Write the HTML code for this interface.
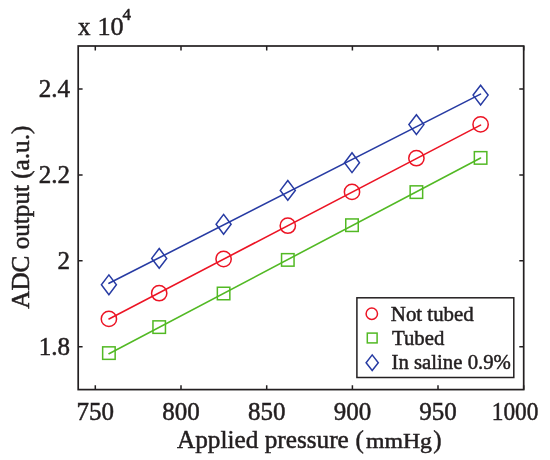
<!DOCTYPE html>
<html><head><meta charset="utf-8"><title>ADC output vs applied pressure</title>
<style>html,body{margin:0;padding:0;background:#fff}svg{display:block}text{font-family:"Liberation Serif","Times New Roman",serif;fill:#231f20;stroke:#231f20;stroke-width:0.5px}</style></head><body>
<svg width="550" height="460" viewBox="0 0 550 460">
<rect width="550" height="460" fill="#fff"/>
<rect x="78.2" y="46.0" width="445.5" height="343.6" fill="none" stroke="#231f20" stroke-width="1.7"/>
<path d="M95.3 389.65v-4.4M95.3 46.0v4.4M181.0 389.65v-4.4M181.0 46.0v4.4M266.7 389.65v-4.4M266.7 46.0v4.4M352.4 389.65v-4.4M352.4 46.0v4.4M438.0 389.65v-4.4M438.0 46.0v4.4M523.7 389.65v-4.4M523.7 46.0v4.4M78.2 346.7h4.4M523.7 346.7h-4.4M78.2 260.8h4.4M523.7 260.8h-4.4M78.2 174.9h4.4M523.7 174.9h-4.4M78.2 89.0h4.4M523.7 89.0h-4.4" stroke="#231f20" stroke-width="1.5" fill="none"/>
<g font-size="25" text-anchor="middle">
<text x="95.3" y="420">750</text>
<text x="181.0" y="420">800</text>
<text x="266.7" y="420">850</text>
<text x="352.4" y="420">900</text>
<text x="438.0" y="420">950</text>
<text x="491.8" y="420" text-anchor="start" textLength="46.6" lengthAdjust="spacingAndGlyphs">1000</text>
</g>
<g font-size="25" text-anchor="end">
<text x="70" y="355.1">1.8</text>
<text x="70" y="269.2">2</text>
<text x="70" y="183.3">2.2</text>
<text x="70" y="97.4">2.4</text>
</g>
<text x="78" y="34.9" font-size="25" style="white-space:pre">x <tspan x="97.5" font-size="26.2">10</tspan></text>
<text x="122.6" y="19.8" font-size="17">4</text>
<text x="177" y="448" font-size="25" style="white-space:pre"><tspan textLength="171.8" lengthAdjust="spacingAndGlyphs">Applied pressure</tspan><tspan x="349.15"> (</tspan><tspan x="366" font-size="22" textLength="66" lengthAdjust="spacingAndGlyphs">mmHg</tspan><tspan x="433.2">)</tspan></text>
<text transform="translate(29 308.7) rotate(-90)" font-size="25" textLength="183" lengthAdjust="spacingAndGlyphs">ADC output (a.u.)</text>
<line x1="109" y1="353.7" x2="480.6" y2="158.0" stroke="#52b924" stroke-width="1.6" stroke-linecap="round"/>
<line x1="109" y1="319.0" x2="480.5" y2="125.1" stroke="#ec1424" stroke-width="1.6" stroke-linecap="round"/>
<line x1="109" y1="283.3" x2="480.5" y2="94.1" stroke="#273ba3" stroke-width="1.6" stroke-linecap="round"/>
<rect x="102.65" y="346.85" width="12.5" height="12.5" fill="none" stroke="#52b924" stroke-width="1.5"/>
<rect x="152.95" y="320.85" width="12.5" height="12.5" fill="none" stroke="#52b924" stroke-width="1.5"/>
<rect x="217.35" y="287.25" width="12.5" height="12.5" fill="none" stroke="#52b924" stroke-width="1.5"/>
<rect x="281.55" y="253.65" width="12.5" height="12.5" fill="none" stroke="#52b924" stroke-width="1.5"/>
<rect x="345.75" y="218.95" width="12.5" height="12.5" fill="none" stroke="#52b924" stroke-width="1.5"/>
<rect x="410.15" y="185.85" width="12.5" height="12.5" fill="none" stroke="#52b924" stroke-width="1.5"/>
<rect x="474.35" y="151.65" width="12.5" height="12.5" fill="none" stroke="#52b924" stroke-width="1.5"/>
<circle cx="108.9" cy="318.9" r="7.65" fill="none" stroke="#ec1424" stroke-width="1.5"/>
<circle cx="159.2" cy="293.2" r="7.65" fill="none" stroke="#ec1424" stroke-width="1.5"/>
<circle cx="223.6" cy="259.0" r="7.65" fill="none" stroke="#ec1424" stroke-width="1.5"/>
<circle cx="287.8" cy="225.7" r="7.65" fill="none" stroke="#ec1424" stroke-width="1.5"/>
<circle cx="352.0" cy="191.9" r="7.65" fill="none" stroke="#ec1424" stroke-width="1.5"/>
<circle cx="416.4" cy="158.2" r="7.65" fill="none" stroke="#ec1424" stroke-width="1.5"/>
<circle cx="480.6" cy="124.4" r="7.65" fill="none" stroke="#ec1424" stroke-width="1.5"/>
<path d="M108.9 274.9l7.5 9.9l-7.5 9.9l-7.5 -9.9z" fill="none" stroke="#273ba3" stroke-width="1.5"/>
<path d="M159.2 248.5l7.5 9.9l-7.5 9.9l-7.5 -9.9z" fill="none" stroke="#273ba3" stroke-width="1.5"/>
<path d="M223.6 214.4l7.5 9.9l-7.5 9.9l-7.5 -9.9z" fill="none" stroke="#273ba3" stroke-width="1.5"/>
<path d="M287.8 180.5l7.5 9.9l-7.5 9.9l-7.5 -9.9z" fill="none" stroke="#273ba3" stroke-width="1.5"/>
<path d="M352.0 152.8l7.5 9.9l-7.5 9.9l-7.5 -9.9z" fill="none" stroke="#273ba3" stroke-width="1.5"/>
<path d="M416.4 114.7l7.5 9.9l-7.5 9.9l-7.5 -9.9z" fill="none" stroke="#273ba3" stroke-width="1.5"/>
<path d="M480.6 85.2l7.5 9.9l-7.5 9.9l-7.5 -9.9z" fill="none" stroke="#273ba3" stroke-width="1.5"/>
<rect x="356.9" y="297.8" width="156.9" height="79.7" fill="#fff" stroke="#231f20" stroke-width="1.5"/>
<circle cx="371.8" cy="313.7" r="5.7" fill="none" stroke="#ec1424" stroke-width="1.5"/>
<rect x="367.3" y="333.1" width="9.8" height="9.8" fill="none" stroke="#52b924" stroke-width="1.5"/>
<path d="M372.2 354.9l6.1 7.8l-6.1 7.8l-6.1 -7.8z" fill="none" stroke="#273ba3" stroke-width="1.5"/>
<g font-size="21.3">
<text x="390.8" y="320.6" textLength="83" lengthAdjust="spacingAndGlyphs">Not tubed</text>
<text x="392" y="344.8" textLength="52.3" lengthAdjust="spacingAndGlyphs">Tubed</text>
<text x="391.5" y="368.9" textLength="119.4" lengthAdjust="spacingAndGlyphs">In saline 0.9%</text>
</g>
</svg></body></html>
